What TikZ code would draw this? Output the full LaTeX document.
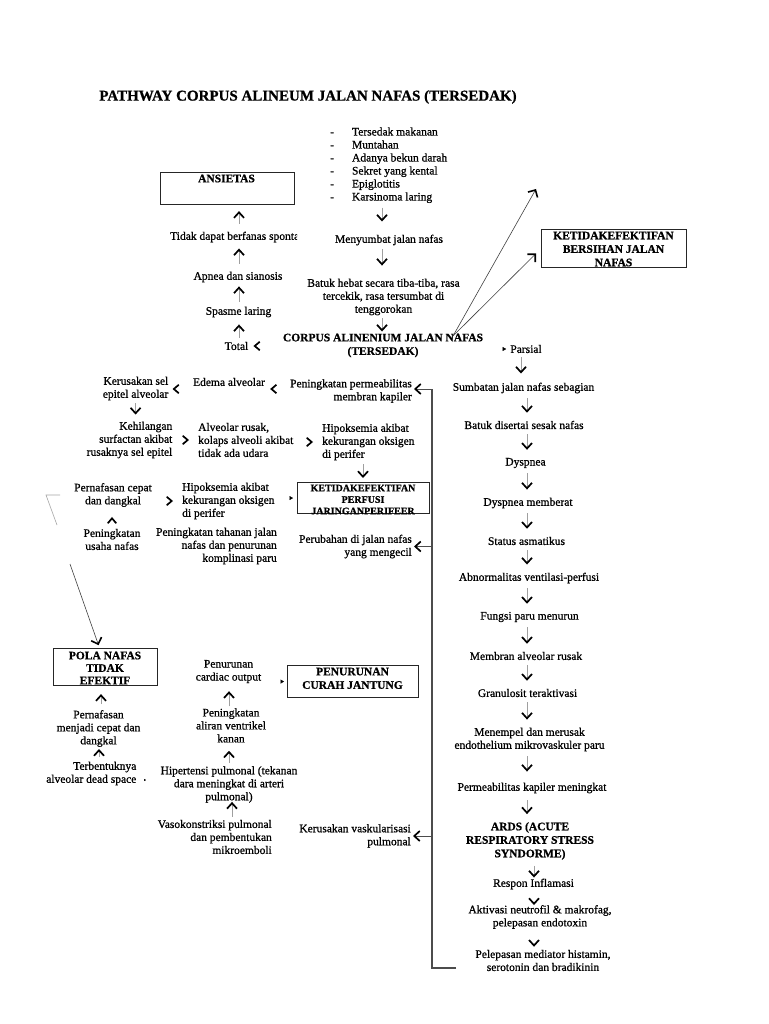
\documentclass[tikz,border=0pt]{standalone}
\usepackage{fontspec}
\setmainfont{Liberation Serif}[RawFeature={embolden=0.8}]
\usetikzlibrary{arrows.meta,calc}
\newcommand\fnreg{\fontsize{11.5}{13}\selectfont}
\newcommand\fnbold{\bfseries\fontsize{11.5}{13.5}\selectfont}
\begin{document}
\begin{tikzpicture}[x=1pt,y=-1pt,
 tx/.style={font=\fnreg, inner sep=1pt, align=center},
 txr/.style={tx, align=right},
 txl/.style={tx, align=left},
 btx/.style={font=\fnbold, inner sep=1pt, align=center},
 boxs/.style={draw=black!85, line width=1.1pt, inner sep=0pt},
 dna/.style={draw=gray!75, line width=0.6pt, -{Straight Barb[length=5.5pt,width=10pt,line width=1.7pt,color=black]}, shorten <=4pt, shorten >=7pt},
 upa/.style={dna, shorten <=5pt, shorten >=5pt},
 ha/.style={draw=white, line width=0.2pt, -{Straight Barb[length=5pt,width=8.5pt,line width=1.7pt,color=black]}},
 mini/.style={draw=white, line width=0.2pt, -{Triangle[length=3.5pt,width=4pt,color=black]}},
 la/.style={draw=black!75, line width=0.6pt, -{Straight Barb[length=5.5pt,width=11pt,line width=1.6pt,color=black]}},
 bus/.style={draw=gray!60!black, line width=1.4pt},
 busar/.style={draw=gray!60!black, line width=0.7pt, -{Straight Barb[length=5.5pt,width=10pt,line width=1.7pt,color=black]}, shorten >=1pt},
]
\fill[white] (0,0) rectangle (768,1024);
\useasboundingbox (0,0) rectangle (768,1024);

% title
\node[font=\bfseries\fontsize{15}{18}\selectfont, inner sep=0pt] (title) at (308,97) {PATHWAY CORPUS ALINEUM JALAN NAFAS (TERSEDAK)};

% causes and main column
\node[tx, align=left, anchor=base west, inner sep=0pt] (causes) at (330,135.5) {\begin{tabular}[t]{@{}l@{\hspace{18pt}}l@{}}-&Tersedak makanan\\-&Muntahan\\-&Adanya bekun darah\\-&Sekret yang kental\\-&Epiglotitis\\-&Karsinoma laring\end{tabular}};
\coordinate (mc) at (382,0);
\node[tx] (menyumbat) at (389,240) {Menyumbat jalan nafas};
\node[tx] (batuk) at (383.5,297) {Batuk hebat secara tiba-tiba, rasa\\tercekik, rasa tersumbat di\\tenggorokan};
\node[btx] (corpus) at (383,345.5) {CORPUS ALINENIUM JALAN NAFAS\\(TERSEDAK)};
\draw[dna, shorten <=3pt, shorten >=12pt] (causes.south -| mc) -- (menyumbat.north -| mc);
\draw[dna, shorten <=3pt, shorten >=12pt] (menyumbat.south -| mc) -- (batuk.north -| mc);
\draw[dna, shorten <=2pt, shorten >=1pt] (batuk.south -| mc) -- (corpus.north -| mc);

% left upper column
\node[boxs, anchor=north west, minimum width=134pt, minimum height=32pt] (ansietas) at (160,172) {};
\node[btx, anchor=north] (ansietas-t) at (226.5,173.5) {ANSIETAS};
\begin{scope}
\clip (160,225) rectangle (297,250);
\node[tx, anchor=west] (tidak) at (169,237) {Tidak dapat berfanas sponta};
\end{scope}
\node[tx] (apnea) at (238,277) {Apnea dan sianosis};
\node[tx] (spasme) at (238.5,312) {Spasme laring};
\node[tx] (total) at (236.5,346) {Total};
\coordinate (lc) at (239,0);
\draw[upa, shorten <=7pt, shorten >=6pt] (tidak.north -| lc) -- (ansietas.south -| lc);
\draw[upa, shorten <=7pt, shorten >=5pt] (apnea.north -| lc) -- (tidak.south -| lc);
\draw[upa, shorten <=4pt, shorten >=3pt] (spasme.north -| lc) -- (apnea.south -| lc);
\draw[upa, shorten <=3pt, shorten >=6pt] (total.north -| lc) -- (spasme.south -| lc);
\draw[ha, shorten >=4pt] (corpus.west |- total.east) -- (total.east);

% right upper
\coordinate (cs) at (453,336);
\coordinate (up1) at (536,189);
\draw[la] (cs) -- (up1);
\node[boxs, anchor=north west, minimum width=145pt, minimum height=38pt] (bersihan) at (541,229) {};
\node[btx, anchor=north] (bersihan-t) at (613.5,230.5) {KETIDAKEFEKTIFAN\\BERSIHAN JALAN\\NAFAS};
\draw[la, shorten >=7pt] (cs) -- (bersihan.west);

% right column
\node[tx] (parsial) at (526,349) {Parsial};
\draw[mini, shorten >=3pt] (corpus.east |- parsial.west) -- (parsial.west);
\node[tx] (sumbatan) at (523.5,388) {Sumbatan jalan nafas sebagian};
\node[tx] (batuk2) at (524,425) {Batuk disertai sesak nafas};
\node[tx] (dyspnea) at (525.5,463) {Dyspnea};
\node[tx] (dysmem) at (528,503) {Dyspnea memberat};
\node[tx] (status) at (526.5,541) {Status asmatikus};
\node[tx] (abnorm) at (529,578) {Abnormalitas ventilasi-perfusi};
\node[tx] (fungsi) at (529.5,617) {Fungsi paru menurun};
\node[tx] (membran) at (526,656) {Membran alveolar rusak};
\node[tx] (granul) at (527.5,693) {Granulosit teraktivasi};
\node[tx] (menempel) at (529.5,739.5) {Menempel dan merusak\\endothelium mikrovaskuler paru};
\node[tx] (permeab) at (532,788) {Permeabilitas kapiler meningkat};
\node[btx] (ards) at (530,841) {ARDS (ACUTE\\RESPIRATORY STRESS\\SYNDORME)};
\node[tx] (respon) at (533.5,884) {Respon Inflamasi};
\node[tx] (aktivasi) at (540,917) {Aktivasi neutrofil \& makrofag,\\pelepasan endotoxin};
\node[tx] (pelepasan) at (543,960.5) {Pelepasan mediator histamin,\\serotonin dan bradikinin};
\coordinate (rc0) at (521,0);
\coordinate (rc) at (527,0);
\coordinate (rc2) at (534,0);
\draw[dna, shorten <=3pt, shorten >=8pt] (parsial.south -| rc0) -- (sumbatan.north -| rc0);
\draw[dna] (sumbatan.south -| rc) -- (batuk2.north -| rc);
\draw[dna] (batuk2.south -| rc) -- (dyspnea.north -| rc);
\draw[dna] (dyspnea.south -| rc) -- (dysmem.north -| rc);
\draw[dna] (dysmem.south -| rc) -- (status.north -| rc);
\draw[dna] (status.south -| rc) -- (abnorm.north -| rc);
\draw[dna] (abnorm.south -| rc) -- (fungsi.north -| rc);
\draw[dna] (fungsi.south -| rc) -- (membran.north -| rc);
\draw[dna] (membran.south -| rc) -- (granul.north -| rc);
\draw[dna] (granul.south -| rc) -- (menempel.north -| rc);
\draw[dna, shorten >=10pt] (menempel.south -| rc) -- (permeab.north -| rc);
\draw[dna, shorten <=6pt] (permeab.south -| rc) -- (ards.north -| rc);
\draw[dna, shorten <=5pt, shorten >=0pt] (ards.south -| rc2) -- (respon.north -| rc2);
\draw[dna, draw=white, shorten <=9pt, shorten >=-1pt] (respon.south -| rc2) -- (aktivasi.north -| rc2);
\draw[dna, draw=white, shorten <=9pt, shorten >=2pt] (aktivasi.south -| rc2) -- (pelepasan.north -| rc2);

% middle block
\node[txr, anchor=east] (penperm) at (413,391) {Peningkatan permeabilitas\\membran kapiler};
\node[tx] (edema) at (229,382) {Edema alveolar};
\node[txr, anchor=east] (kersel) at (169.5,388.5) {Kerusakan sel\\epitel alveolar};
\coordinate (r1) at (0,389);
\draw[ha, shorten >=4pt] (penperm.west |- r1) -- (edema.east |- r1);
\draw[ha, shorten >=3pt] (edema.west |- r1) -- (kersel.east |- r1);
\node[txr, anchor=east] (kehil) at (173.5,440) {Kehilangan\\surfactan akibat\\rusaknya sel epitel};
\draw[dna, shorten <=2pt, shorten >=6pt] (kersel.south) -- (kersel.south |- kehil.north);
\node[txl, anchor=west] (alvrus) at (197,440) {Alveolar rusak,\\kolaps alveoli akibat\\tidak ada udara};
\draw[ha, shorten >=8pt] (kehil.east) -- (alvrus.west);
\node[txl, anchor=west] (hipok1) at (321,442) {Hipoksemia akibat\\kekurangan oksigen\\di perifer};
\draw[ha, shorten >=8pt] (alvrus.east |- hipok1.west) -- (hipok1.west);
\node[boxs, anchor=north west, minimum width=132pt, minimum height=31pt] (perfusi) at (297,482) {};
\begin{scope}
\clip (perfusi.south west) rectangle (perfusi.north east);
\node[font=\bfseries\fontsize{10}{11.5}\selectfont, align=center, anchor=north, inner sep=0pt] (perfusi-t) at (363,484.5) {KETIDAKEFEKTIFAN\\PERFUSI\\JARINGANPERIFEER};
\end{scope}
\draw[dna, shorten <=3pt, shorten >=4pt] (hipok1.south -| perfusi-t) -- (perfusi.north -| perfusi-t);
\node[tx] (pernc) at (113,495) {Pernafasan cepat\\dan dangkal};
\node[txl, anchor=west] (hipok2) at (181,501) {Hipoksemia akibat\\kekurangan oksigen\\di perifer};
\draw[ha, shorten >=8pt] (pernc.east |- hipok2.west) -- (hipok2.west);
\draw[mini, shorten >=4pt] (hipok2.east |- perfusi.west) -- (perfusi.west);
\node[tx] (usaha) at (112,539.5) {Peningkatan\\usaha nafas};
\draw[ha, shorten <=2pt, shorten >=9pt] (usaha.north) -- (usaha.north |- pernc.south);
\node[txr, anchor=east] (tahanan) at (278,546) {Peningkatan tahanan jalan\\nafas dan penurunan\\komplinasi paru};
\node[txr, anchor=east] (perubahan) at (413,546.5) {Perubahan di jalan nafas\\yang mengecil};

% left loose lines
\draw[draw=gray!70, line width=0.6pt] (60,495) -- (46,495) -- (57,525);
\coordinate (la1) at (70,564);
\node[boxs, anchor=north west, minimum width=104pt, minimum height=37pt] (pola) at (53,648) {};
\begin{scope}
\clip (pola.south west) rectangle (pola.north east);
\node[btx, anchor=north, font=\bfseries\fontsize{11.5}{12.5}\selectfont] (pola-t) at (105,650.5) {POLA NAFAS\\TIDAK\\EFEKTIF};
\end{scope}
\draw[la, shorten >=3pt] (la1) -- ($(pola.north)+(-6,0)$);

% lower left / middle
\node[tx] (cardiac) at (228.5,671.5) {Penurunan\\cardiac output};
\node[boxs, anchor=north west, minimum width=131pt, minimum height=32pt] (curah) at (287,665) {};
\node[btx, anchor=north] (curah-t) at (352.5,666.5) {PENURUNAN\\CURAH JANTUNG};
\draw[mini, shorten >=3pt] (cardiac.east |- curah.west) -- (curah.west);
\node[tx] (pern2) at (98.5,728.5) {Pernafasan\\menjadi cepat dan\\dangkal};
\coordinate (pc) at (101,0);
\coordinate (pc2) at (99,0);
\draw[upa, shorten <=5pt, shorten >=8pt] (pern2.north -| pc) -- (pola.south -| pc);
\node[txr, anchor=east] (terbent) at (137.5,773.5) {Terbentuknya\\alveolar dead space};
\draw[upa, shorten <=4pt, shorten >=1pt] (terbent.north -| pc2) -- (pern2.south -| pc2);
\coordinate (dot1) at (146,780);
\draw[draw=white, line width=0.2pt, -{Triangle[length=2pt,width=2pt,color=black]}, shorten <=3pt] (terbent.east |- dot1) -- (dot1);
\node[tx] (aliran) at (231,725.5) {Peningkatan\\aliran ventrikel\\kanan};
\coordinate (cc) at (229,0);
\coordinate (cc3) at (232,0);
\draw[upa, shorten <=1pt, shorten >=7pt] (aliran.north -| cc) -- (cardiac.south -| cc);
\node[tx] (hiper) at (229,784.5) {Hipertensi pulmonal (tekanan\\dara meningkat di arteri\\pulmonal)};
\draw[upa, shorten <=2pt, shorten >=7pt] (hiper.north -| cc) -- (aliran.south -| cc);
\node[txr, anchor=east] (vaso) at (273,837) {Vasokonstriksi pulmonal\\dan pembentukan\\mikroemboli};
\draw[upa, shorten <=2pt, shorten >=-2pt] (vaso.north -| cc3) -- (hiper.south -| cc3);
\node[txr, anchor=east] (kervas) at (412,836) {Kerusakan vaskularisasi\\pulmonal};

% bus
\coordinate (bt) at (432,389);
\coordinate (bb) at (432,968);
\coordinate (be) at (456,968);
\draw[bus] (be) -- (bb) -- (bt);
\draw[busar] (bt) -- (penperm.east |- bt);
\draw[busar] (bt |- perubahan.east) -- (perubahan.east);
\draw[busar] (bt |- kervas.east) -- (kervas.east);
\end{tikzpicture}
\end{document}
